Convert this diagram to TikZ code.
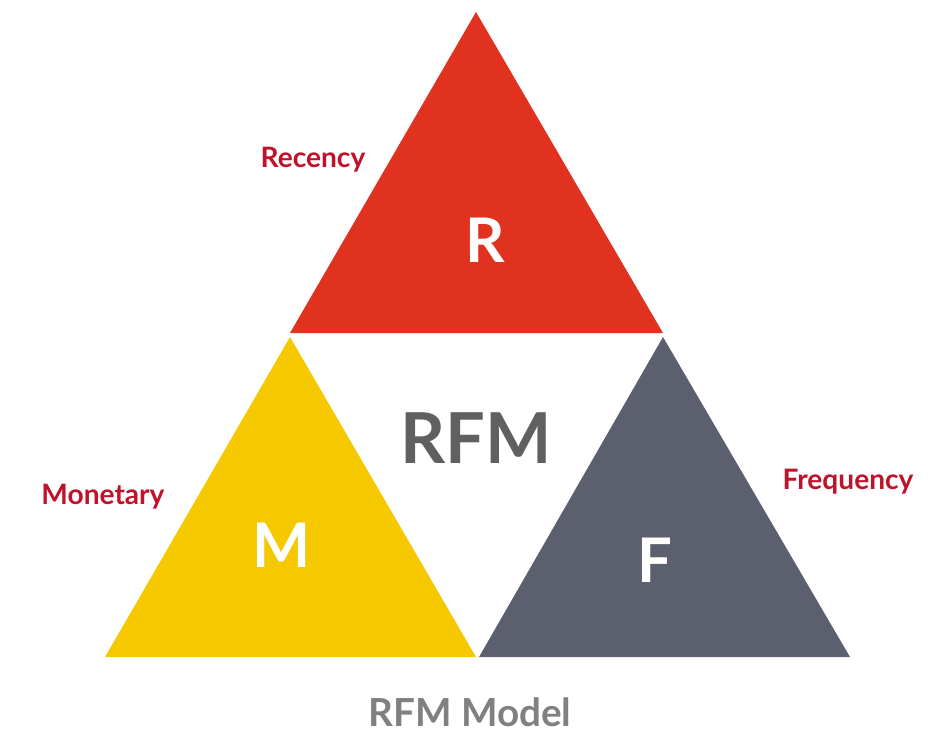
\documentclass[tikz,border=0pt]{standalone}
\usepackage{fontspec}
\setmainfont{Lato}
\definecolor{cred}{HTML}{E0321F}
\definecolor{cyel}{HTML}{F5C800}
\definecolor{cgray}{HTML}{5C606E}
\definecolor{clab}{HTML}{C0122A}
\definecolor{ctext}{HTML}{606060}
\definecolor{cmodel}{HTML}{808080}
\begin{document}
\begin{tikzpicture}[x=0.02cm,y=-0.02cm,
  big/.style={text=white,font=\bfseries\fontsize{35}{40}\selectfont},
  lab/.style={text=clab,font=\bfseries\fontsize{16}{19}\selectfont}]
\useasboundingbox (0,0) rectangle (950,750);
\fill[cred] (476,12) -- (663,333) -- (290,333) -- cycle;
\fill[cyel] (290,337) -- (476,657) -- (105,657) -- cycle;
\fill[cgray] (663,337) -- (850,657) -- (479,657) -- cycle;
\node[big] (r) at (485,240) {R};
\node[big] (m) at (282,545) {M};
\node[big] (f) at (655,560) {F};
\node[text=ctext,font=\bfseries\fontsize{40}{46}\selectfont] (rfm) at (476,438) {RFM};
\node[lab] (rec) at (313,160) {Recency};
\node[lab] (mon) at (103,497) {Monetary};
\node[lab] (fre) at (848,482) {Frequency};
\node[text=cmodel,font=\bfseries\fontsize{22}{26}\selectfont] (model) at (470,712) {RFM Model};
\end{tikzpicture}
\end{document}
